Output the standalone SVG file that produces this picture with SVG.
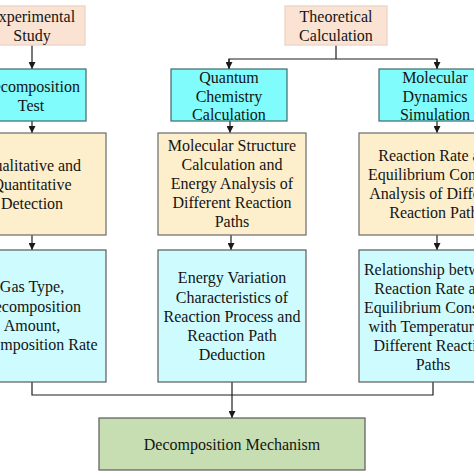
<svg xmlns="http://www.w3.org/2000/svg" width="474" height="474" viewBox="0 0 474 474">
<defs>
<marker id="ah" viewBox="0 0 10 10" refX="10" refY="5" markerWidth="7" markerHeight="7" markerUnits="userSpaceOnUse" orient="auto">
<path d="M0,0 L10,5 L0,10 z" fill="#1a1a1a"/>
</marker>
<style>
text{font-family:"Liberation Serif","Times New Roman",serif;font-size:16px;fill:#141414;text-anchor:middle}
.peach{fill:#fae3d3;stroke:#eed7c8;stroke-width:1.5}
.cyan{fill:#80fcfc;stroke:#3e6868;stroke-width:1.2}
.tan{fill:#fdefcb;stroke:#6a6a6a;stroke-width:1.2}
.lcyan{fill:#cefcfe;stroke:#5a5a5a;stroke-width:1.2}
.green{fill:#c6deb2;stroke:#5a5a5a;stroke-width:1.2}
.ln{fill:none;stroke:#1f1f1f;stroke-width:1.2}
</style>
</defs>
<rect width="474" height="474" fill="#ffffff"/>

<g id="connectors">
<line class="ln" x1="32" y1="45" x2="32" y2="69" marker-end="url(#ah)"/>
<polyline class="ln" points="336,45 336,59"/>
<polyline class="ln" points="229,69 229,59 437,59 437,69"/>
<line class="ln" x1="229" y1="59" x2="229" y2="69" marker-end="url(#ah)"/>
<line class="ln" x1="437" y1="59" x2="437" y2="69" marker-end="url(#ah)"/>
<line class="ln" x1="32" y1="121" x2="32" y2="133" marker-end="url(#ah)"/>
<line class="ln" x1="230" y1="121" x2="230" y2="133" marker-end="url(#ah)"/>
<line class="ln" x1="437" y1="121" x2="437" y2="133" marker-end="url(#ah)"/>
<line class="ln" x1="32" y1="235" x2="32" y2="250" marker-end="url(#ah)"/>
<line class="ln" x1="231" y1="235" x2="231" y2="250" marker-end="url(#ah)"/>
<line class="ln" x1="437" y1="235" x2="437" y2="250" marker-end="url(#ah)"/>
<polyline class="ln" points="32,382 32,395 433,395 433,382"/>
<line class="ln" x1="232" y1="382" x2="232" y2="418" marker-end="url(#ah)"/>
</g>

<g id="experimental-study">
<rect class="peach" x="-22" y="6" width="107" height="39"/>
<text x="32" y="22">Experimental</text>
<text x="32" y="41">Study</text>
</g>
<g id="theoretical-calculation">
<rect class="peach" x="285" y="6" width="102" height="39"/>
<text x="336" y="22">Theoretical</text>
<text x="336" y="41">Calculation</text>
</g>

<g id="decomposition-test">
<rect class="cyan" x="-22" y="69" width="108" height="52"/>
<text x="31" y="92">Decomposition</text>
<text x="31" y="111">Test</text>
</g>
<g id="quantum-chemistry">
<rect class="cyan" x="171" y="69" width="116" height="52"/>
<text x="229" y="83">Quantum</text>
<text x="229" y="101.5">Chemistry</text>
<text x="229" y="120">Calculation</text>
</g>
<g id="molecular-dynamics">
<rect class="cyan" x="379" y="69" width="116" height="52"/>
<text x="435" y="83">Molecular</text>
<text x="435" y="101.5">Dynamics</text>
<text x="435" y="120">Simulation</text>
</g>

<g id="qualitative-detection">
<rect class="tan" x="-42" y="133" width="148" height="102"/>
<text x="32" y="171">Qualitative and</text>
<text x="32" y="190">Quantitative</text>
<text x="32" y="209">Detection</text>
</g>
<g id="molecular-structure">
<rect class="tan" x="158" y="133" width="148" height="102"/>
<text x="232" y="151">Molecular Structure</text>
<text x="232" y="170">Calculation and</text>
<text x="232" y="189">Energy Analysis of</text>
<text x="232" y="208">Different Reaction</text>
<text x="232" y="227">Paths</text>
</g>
<g id="reaction-rate-analysis">
<rect class="tan" x="359" y="133" width="148" height="102"/>
<text x="437" y="161">Reaction Rate and</text>
<text x="437" y="180">Equilibrium Constant</text>
<text x="437" y="199">Analysis of Different</text>
<text x="437" y="218">Reaction Paths</text>
</g>

<g id="gas-type">
<rect class="lcyan" x="-42" y="250" width="148" height="132"/>
<text x="32" y="292">Gas Type,</text>
<text x="32" y="311.5">Decomposition</text>
<text x="32" y="331">Amount,</text>
<text x="32" y="350">Decomposition Rate</text>
</g>
<g id="energy-variation">
<rect class="lcyan" x="158" y="250" width="148" height="132"/>
<text x="232" y="283">Energy Variation</text>
<text x="232" y="302.5">Characteristics of</text>
<text x="232" y="322">Reaction Process and</text>
<text x="232" y="341">Reaction Path</text>
<text x="232" y="360">Deduction</text>
</g>
<g id="relationship">
<rect class="lcyan" x="359" y="250" width="148" height="132"/>
<text x="433" y="275">Relationship between</text>
<text x="433" y="294">Reaction Rate and</text>
<text x="433" y="313">Equilibrium Constant</text>
<text x="433" y="332">with Temperature in</text>
<text x="433" y="351">Different Reaction</text>
<text x="433" y="370">Paths</text>
</g>

<g id="decomposition-mechanism">
<rect class="green" x="99" y="418" width="266" height="52"/>
<text x="232" y="450">Decomposition Mechanism</text>
</g>
</svg>
